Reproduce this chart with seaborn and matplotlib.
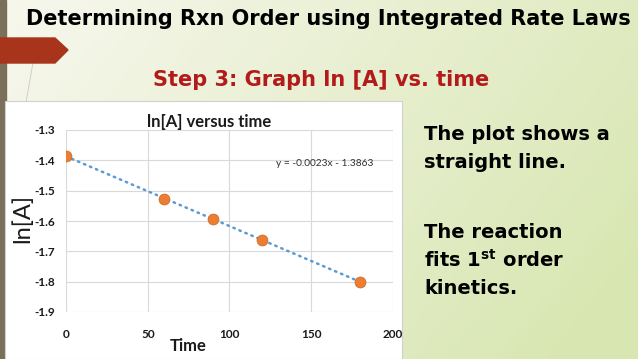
import numpy as np
import pandas as pd
import matplotlib
matplotlib.use("Agg")
import matplotlib.pyplot as plt
from matplotlib.patches import Rectangle, Polygon
import seaborn as sns

# data
time = [0, 60, 90, 120, 180]
ln_a = [-1.386, -1.526, -1.593, -1.664, -1.800]
x_ticks = [0, 50, 100, 150, 200]
y_ticks = [-1.9, -1.8, -1.7, -1.6, -1.5, -1.4, -1.3]
fit_label = "y = -0.0023x - 1.3863"

df = pd.DataFrame({"Time": time, "lnA": ln_a})

sns.set_theme(style="white")
plt.rcParams["font.family"] = ["Lato", "DejaVu Sans"]
plt.rcParams["axes.unicode_minus"] = False

W, H = 638, 359
fig = plt.figure(figsize=(W / 100, H / 100), dpi=100)


def fx(px):
    return px / W


def fy(py):
    return 1 - py / H


# slide background: cream on the left fading into pale green
bg = fig.add_axes([0, 0, 1, 1], zorder=-10)
gx = np.linspace(0, 1, 200)
gy = np.linspace(0, 1, 120)
GX, GY = np.meshgrid(gx, gy)
t = np.clip(0.8 * GX + 0.35 * GY - 0.05, 0, 1)
c0 = np.array([0.965, 0.968, 0.925])
c1 = np.array([0.85, 0.905, 0.70])
img = c0[None, None, :] * (1 - t[..., None]) + c1[None, None, :] * t[..., None]
bg.imshow(img, extent=[0, 1, 0, 1], aspect="auto", origin="upper")
bg.set_xlim(0, 1)
bg.set_ylim(0, 1)
bg.axis("off")

# left brown strip and red arrow tab
bg.add_patch(Rectangle((0, 0), fx(6), 1, color="#7a6f5a", zorder=2))
bg.add_patch(Polygon([(fx(0), fy(38)), (fx(55), fy(38)), (fx(68), fy(50)),
                      (fx(55), fy(63)), (fx(0), fy(63))],
                     closed=True, color="#a8341c", zorder=2))
bg.plot([fx(33), fx(26)], [fy(63), fy(102)], color="#c9cdb8", lw=0.6, zorder=1)

# chart box
bg.add_patch(Rectangle((fx(5), 0), fx(397), fy(101), facecolor="white",
                       edgecolor="#d0d0d0", lw=0.8, zorder=3))

# slide text
fig.text(fx(328), fy(19), "Determining Rxn Order using Integrated Rate Laws",
         ha="center", va="center", fontsize=15, fontweight="bold",
         family=["DejaVu Sans"], color="black")
fig.text(fx(321), fy(80), "Step 3: Graph ln [A] vs. time", ha="center",
         va="center", fontsize=15, fontweight="bold", family=["DejaVu Sans"],
         color="#b31b1b")
right_lines = [("The plot shows a", 135), ("straight line.", 162),
               ("The reaction", 233), ("fits 1$^{\\mathregular{st}}$ order", 260),
               ("kinetics.", 288)]
for txt, py in right_lines:
    fig.text(fx(424), fy(py), txt, ha="left", va="center", fontsize=14,
             fontweight="bold", family=["DejaVu Sans"], color="black")

# the chart itself
ax = fig.add_axes([fx(66), fy(312), fx(393 - 66), (312 - 130) / H], zorder=5)
ax.patch.set_alpha(0)
sns.regplot(data=df, x="Time", y="lnA", ax=ax, scatter=False, ci=None,
            truncate=True,
            line_kws={"color": "#5b9bd5", "lw": 1.8, "ls": (0, (0.6, 2.0)),
                      "dash_capstyle": "round"})
sns.scatterplot(data=df, x="Time", y="lnA", ax=ax, s=62, color="#ed7d31",
                edgecolor="#c9651f", linewidth=0.5, zorder=4)

ax.set_xlim(0, 200)
ax.set_ylim(-1.9, -1.3)
ax.set_xticks(x_ticks)
ax.set_yticks(y_ticks)
ax.set_xticklabels([str(v) for v in x_ticks])
ax.set_yticklabels([f"{v:.1f}" for v in y_ticks])
ax.grid(True, color="#d9d9d9", lw=0.8)
for s in ax.spines.values():
    s.set_visible(False)
ax.tick_params(axis="both", length=0, labelsize=8.5, colors="#1a1a1a")
ax.tick_params(axis="x", pad=12)
ax.tick_params(axis="y", pad=8)
for lab in ax.get_xticklabels() + ax.get_yticklabels():
    lab.set_fontweight("bold")

ax.set_xlabel("")
ax.set_ylabel("")
fig.text(fx(188), fy(346), "Time", ha="center", va="center", fontsize=12,
         fontweight="bold", color="#1a1a1a")
fig.text(fx(22), fy(218), "ln[A]", rotation=90, ha="center", va="center",
         fontsize=17, color="#1a1a1a")
fig.text(fx(209), fy(122), "ln[A] versus time", ha="center", va="center",
         fontsize=12, fontweight="bold", color="#1a1a1a")
ax.text(158, -1.41, fit_label, ha="center", va="center", fontsize=7.3,
        color="#303030")

fig.savefig("out.png", dpi=100)
